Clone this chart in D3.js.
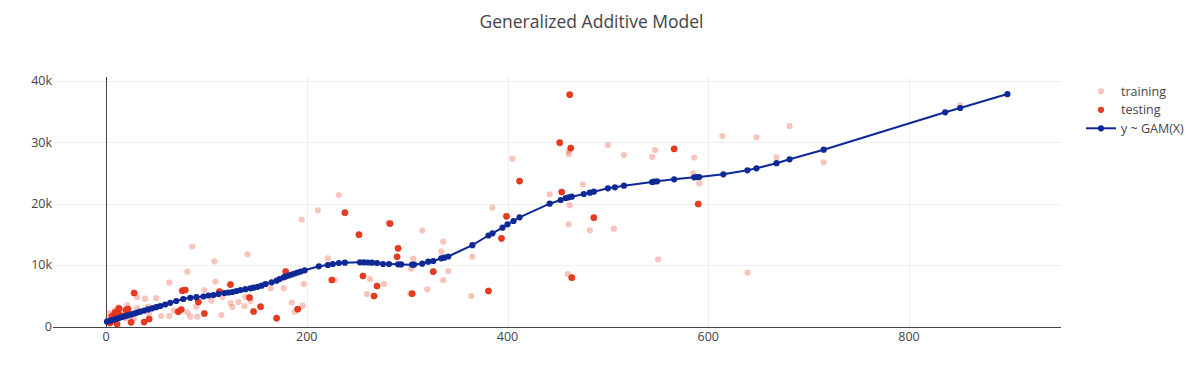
<!DOCTYPE html>
<html><head><meta charset="utf-8">
<script src="https://cdn.jsdelivr.net/npm/d3@7"></script>
<style>body{margin:0;background:#fff;font-family:"Open Sans",verdana,arial,sans-serif}</style>
</head><body><div id="chart"></div>
<script>
// GAM fit vs training / testing scatter (plotly-ish look)
const trainX=[2,4,3,6,9,12,16,19,21,24,28,31,31,34,39,42,43,50,55,63,63,68,81,81,84,86,90,91,98,105,108,109,115,116,124,126,132,138,139,141,144,164,177,185,188,195,197,196,211,221,228,232,260,263,277,281,303,304,306,315,320,334,336,336,341,364,365,385,405,442,460,461,461,461,462,475,482,500,506,516,544,547,550,585,586,591,614,639,648,668,681,715,851,898];
const trainY=[1340,780,2150,1430,2690,3130,2525,1340,3500,1710,1340,2965,4805,2410,4530,3225,2150,4645,1710,1710,7135,2575,8930,2315,1600,13035,3225,1600,5945,4205,10625,7330,1875,4805,3830,3175,3990,3340,4805,11765,4155,6225,6225,3910,2410,17435,6925,3390,18930,11110,7575,21425,5295,7740,6925,16865,5375,9415,11045,15640,6060,12185,13815,7545,9045,4970,11375,19355,27340,21540,8555,16650,28560,28105,19765,23135,15675,29570,15935,27940,27650,28760,10950,24960,27535,23330,31040,8765,30825,27570,32665,26755,36040,37720];
const testX=[4,6,9,11,12,13,15,20,22,25,28,38,43,72,75,76,79,92,98,113,124,143,147,154,170,179,191,225,238,252,256,267,270,283,290,291,305,326,381,394,399,412,452,454,462,463,464,486,566,590];
const testY=[570,1710,2280,410,2200,2930,1710,2690,2850,680,5460,730,1220,2410,2770,5830,5950,3990,2120,5700,6840,4725,2445,3225,1350,8960,2820,7575,18540,14955,8230,4970,6600,16765,11355,12740,5345,8930,5785,14355,17955,23690,29945,21915,37765,29065,7950,17725,28935,19960];
const gamX=[1,4,7,10,13,16,19,22,25,28,31,34,38,42,46,50,54,59,64,70,77,84,90,97,102,107,112,118,122,126,130,134,139,144,147,151,155,159,165,170,173,177,179,182,185,188,191,194,198,212,221,226,232,238,253,257,261,265,270,276,282,291,294,305,307,315,321,326,334,337,341,365,381,385,395,400,406,412,442,453,458,461,464,476,482,486,500,507,516,544,546,549,566,586,589,591,615,639,648,668,681,715,836,851,898];
const gamY=[780,945,1090,1240,1385,1550,1680,1825,1970,2120,2265,2410,2590,2785,2965,3145,3340,3585,3860,4155,4480,4675,4775,4890,5050,5130,5295,5460,5540,5620,5785,5945,6075,6225,6320,6470,6650,6925,7200,7460,7740,8015,8150,8310,8470,8635,8800,8960,9155,9810,10020,10185,10345,10395,10460,10460,10425,10395,10345,10185,10185,10135,10120,10070,10085,10230,10560,10670,11110,11210,11405,13245,14825,15185,16100,16650,17190,17790,20010,20610,20935,21050,21150,21590,21800,21965,22515,22680,22940,23545,23610,23655,23985,24310,24340,24360,24800,25450,25775,26605,27240,28805,34900,35600,37880];
const xTicks=[0,200,400,600,800];
const yTicks=[0,10000,20000,30000,40000];
const legendLabels=['training','testing','y ~ GAM(X)'];

const W=1200, H=379, M={l:53,r:139,t:77,b:52};
const RED='#ec3a1e', PINK='rgba(236,58,30,0.3)', BLUE='#0e2896', TXT='#444';

const svg=d3.select('#chart').append('svg').attr('width',W).attr('height',H);
const x=d3.scaleLinear().domain([-52.8,951.4]).range([M.l,W-M.r]);
const y=d3.scaleLinear().domain([-80,40650]).range([H-M.b,M.t]);
const px=v=>Math.round(v)+0.5;   // crisp 1px lines

// grid
const grid=svg.append('g');
xTicks.filter(t=>t!==0).forEach(t=>grid.append('line').attr('x1',px(x(t))).attr('x2',px(x(t))).attr('y1',M.t).attr('y2',H-M.b).attr('stroke','#eee'));
yTicks.filter(t=>t!==0).forEach(t=>grid.append('line').attr('x1',M.l).attr('x2',W-M.r).attr('y1',px(y(t))).attr('y2',px(y(t))).attr('stroke','#eee'));
// zero lines
grid.append('line').attr('x1',px(x(0))).attr('x2',px(x(0))).attr('y1',M.t).attr('y2',H-M.b).attr('stroke',TXT).attr('stroke-width',1);
grid.append('line').attr('x1',M.l).attr('x2',W-M.r).attr('y1',px(y(0))).attr('y2',px(y(0))).attr('stroke',TXT).attr('stroke-width',1.2);

// tick labels
const fk=d3.format('~s');
xTicks.forEach(t=>svg.append('text').attr('x',x(t)).attr('y',H-M.b+14).attr('text-anchor','middle').attr('font-size',12.5).attr('fill',TXT).text(t));
yTicks.forEach(t=>svg.append('text').attr('x',M.l-1).attr('y',y(t)+4.3).attr('text-anchor','end').attr('font-size',12.5).attr('fill',TXT).text(fk(t)));

// points
const plot=svg.append('g');
plot.selectAll('circle.tr').data(d3.zip(trainX,trainY)).join('circle').attr('class','tr')
  .attr('cx',d=>x(d[0])).attr('cy',d=>y(d[1])).attr('r',3.1).attr('fill',PINK);
plot.selectAll('circle.te').data(d3.zip(testX,testY)).join('circle').attr('class','te')
  .attr('cx',d=>x(d[0])).attr('cy',d=>y(d[1])).attr('r',3.1).attr('fill',RED).attr('stroke','#c92a10').attr('stroke-width',0.6);
const gam=d3.zip(gamX,gamY);
plot.append('path').datum(gam).attr('d',d3.line().x(d=>x(d[0])).y(d=>y(d[1])))
  .attr('fill','none').attr('stroke',BLUE).attr('stroke-width',2);
plot.selectAll('circle.g').data(gam).join('circle').attr('class','g')
  .attr('cx',d=>x(d[0])).attr('cy',d=>y(d[1])).attr('r',3.1).attr('fill',BLUE);

// title
svg.append('text').attr('x',591.5).attr('y',28).attr('text-anchor','middle').attr('font-size',17.5).attr('fill',TXT).text('Generalized Additive Model');

// legend
const lg=svg.append('g').attr('transform','translate(1101,91.3)');
legendLabels.forEach((lab,i)=>{
  const row=lg.append('g').attr('transform',`translate(0,${i*18.5})`);
  if(i===2) row.append('line').attr('x1',-15).attr('x2',15).attr('stroke',BLUE).attr('stroke-width',2);
  row.append('circle').attr('r',3.1).attr('fill',i===0?PINK:i===1?RED:BLUE);
  row.append('text').attr('x',20).attr('y',4.4).attr('font-size',12.5).attr('fill',TXT).text(lab);
});
</script></body></html>
